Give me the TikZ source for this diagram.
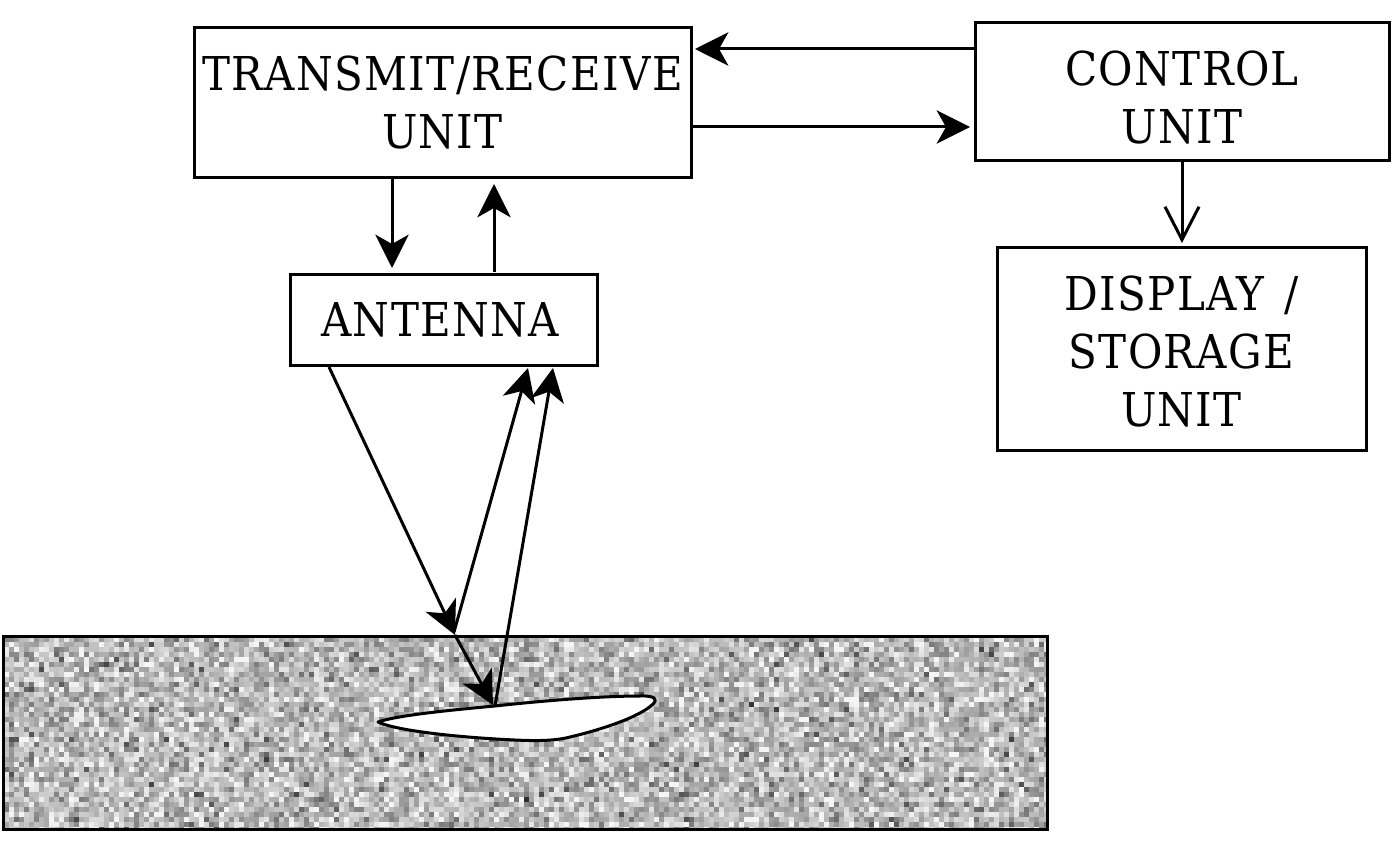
\documentclass[tikz,border=0pt]{standalone}
\usepackage{fontspec}
\setmainfont{DejaVu Serif Condensed}[LetterSpace=3,WordSpace=1.35]
\usetikzlibrary{arrows.meta,calc}
\newdimen\pxu \pxu=0.75pt
\tikzset{
  box/.style={draw=black,line width=2.25pt,inner sep=0pt,align=center,font=\fontsize{35pt}{43.5pt}\selectfont},
  sig/.style={line width=2.25pt,-{Stealth[length=25pt,width=25pt,inset=7pt]}},
  openarrow/.style={line width=2.25pt,-{Straight Barb[length=24.75pt,width=25.5pt,line width=2.25pt]}},
  cavity/.style={draw=black,line width=2.25pt,fill=white,line join=round}
}
\begin{document}
\begin{tikzpicture}[x=0.75pt,y=-0.75pt]
\useasboundingbox (0,0) rectangle (1400,842);
% ground noise
\pgfmathsetseed{4711}
\foreach \i in {0,...,208}{
  \foreach \j in {0,...,38}{
    \pgfmathsetmacro{\g}{min(96,max(12,100*(0.46+0.3*(rnd+rnd)-0.3*rnd^8+0.06*sin(\i*61.3)*sin(\j*47.7))))}
    \pgfmathsetmacro{\hh}{min(5.4,829-(637+5*\j))}
    \fill[color=white!\g!black] ({4+5*\i},{637+5*\j}) rectangle ++(5.4,\hh);
  }
}
\node[draw=black,line width=2.25pt,minimum width=1044\pxu,minimum height=193\pxu,inner sep=0pt] (ground) at (525.5,733) {};
% cavity
\draw[cavity] (378,722) .. controls (395,716) and (440,711) .. (495,706)
  .. controls (550,700) and (605,696) .. (640,696)
  .. controls (655,695.5) and (658,699) .. (653,704)
  .. controls (640,717) and (600,730) .. (570,737)
  .. controls (555,741) and (535,741) .. (515,740)
  .. controls (470,738) and (400,732) .. cycle;
\coordinate (flaw) at (495,706);
% boxes
\node[box,minimum width=497\pxu,minimum height=149\pxu] (tr) at (442.5,102.5) {TRANSMIT/RECEIVE\\UNIT};
\node[box,minimum width=414\pxu,minimum height=137\pxu] (ctl) at (1182,91.5) {\rule{0pt}{35pt}CONTROL\\UNIT};
\node[box,minimum width=369\pxu,minimum height=203\pxu] (disp) at (1181.5,348.5) {\rule{0pt}{30.5pt}DISPLAY /\\STORAGE\\UNIT};
\node[box,minimum width=307\pxu,minimum height=91\pxu] (ant) at (443.5,319.5) {ANTENNA\hspace{5pt}};
% free ends
\coordinate (a1) at (ctl.west |- 0,49);
\coordinate (a2) at (695,49);
\coordinate (b1) at (tr.east |- 0,127);
\coordinate (b2) at (970,127);
\coordinate (c1) at (392,178);
\coordinate (c2) at (392,268);
\coordinate (d1) at (494,272);
\coordinate (d2) at (494,184);
\coordinate (e1) at (1182,161);
\coordinate (e2) at (1182,243);
\coordinate (f1) at (329,367);
\coordinate (f2) at (455,635);
\coordinate (f3) at (493,705);
\coordinate (g1) at (454,632);
\coordinate (g2) at (528,368);
\coordinate (h2) at (553,368);
% connectors
\draw[sig] (a1) -- (a2);
\draw[sig] (b1) -- (b2);
\draw[sig] (c1) -- (c2);
\draw[sig] (d1) -- (d2);
\draw[openarrow] (e1) -- (e2);
\draw[sig] (f1) -- (f2);
\draw[sig] (f2) -- (f3);
\draw[sig] (g1) -- (g2);
\draw[sig] (flaw) -- (h2);
\end{tikzpicture}
\end{document}
